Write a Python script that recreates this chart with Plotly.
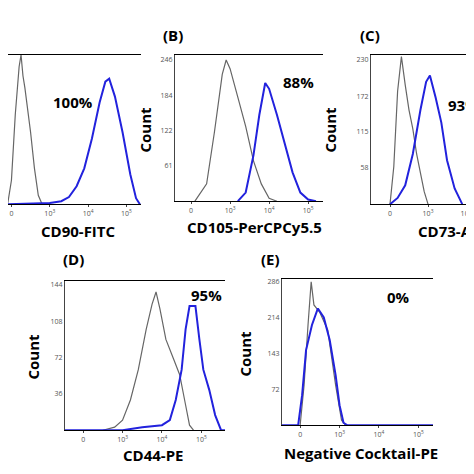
import plotly.graph_objects as go

# display scale: 0 -> "0", 1 -> 10^3, 2 -> 10^4, 3 -> 10^5
tick_vals = [0, 1, 2, 3]
tick_text = ['0', '10<sup>3</sup>', '10<sup>4</sup>', '10<sup>5</sup>']

# panel A  CD90-FITC
a_gray_x = [-0.1, 0.0, 0.1, 0.2, 0.25, 0.3, 0.35, 0.4, 0.5, 0.6, 0.7, 0.8]
a_gray_y = [0, 40, 150, 230, 250, 215, 195, 170, 120, 60, 15, 0]
a_blue_x = [-0.1, 1.0, 1.3, 1.5, 1.7, 1.9, 2.1, 2.3, 2.45, 2.55, 2.7, 2.9, 3.1, 3.25, 3.35]
a_blue_y = [0, 2, 5, 12, 30, 60, 110, 170, 205, 210, 180, 120, 50, 10, 0]

# panel B  CD105-PerCPCy5.5
b_gray_x = [0.1, 0.4, 0.6, 0.8, 0.9, 1.0, 1.2, 1.4, 1.6, 1.8, 2.0, 2.2]
b_gray_y = [0, 30, 120, 220, 245, 230, 180, 130, 70, 30, 5, 0]
b_blue_x = [1.2, 1.4, 1.6, 1.75, 1.9, 2.0, 2.2, 2.4, 2.6, 2.8, 3.0, 3.2]
b_blue_y = [0, 15, 80, 150, 205, 195, 150, 100, 50, 15, 3, 0]

# panel C  CD73-APC
c_gray_x = [0.0, 0.1, 0.2, 0.3, 0.4, 0.5, 0.6, 0.7, 0.8, 0.9, 1.0]
c_gray_y = [0, 60, 180, 235, 190, 150, 120, 80, 50, 20, 0]
c_blue_x = [0.0, 0.2, 0.4, 0.6, 0.8, 0.95, 1.05, 1.2, 1.35, 1.5, 1.7, 1.9]
c_blue_y = [0, 10, 30, 80, 150, 195, 205, 170, 130, 70, 25, 0]

# panel D  CD44-PE
d_gray_x = [0.5, 0.8, 1.0, 1.2, 1.4, 1.6, 1.75, 1.85, 1.95, 2.1, 2.3, 2.45, 2.6, 2.7, 2.8]
d_gray_y = [0, 3, 10, 30, 60, 100, 125, 137, 120, 90, 70, 55, 25, 5, 0]
d_blue_x = [-0.5, 1.0, 1.5, 2.0, 2.2, 2.35, 2.5, 2.6, 2.7, 2.85, 2.95, 3.05, 3.2, 3.35, 3.5, 3.6]
d_blue_y = [0, 0, 3, 5, 10, 30, 60, 100, 123, 123, 90, 60, 40, 15, 0, 0]

# panel E  Negative Cocktail-PE
e_gray_x = [0.0, 0.1, 0.2, 0.28, 0.35, 0.5, 0.7, 0.9, 1.05, 1.15]
e_gray_y = [0, 80, 200, 286, 240, 225, 190, 80, 10, 0]
e_blue_x = [-0.5, -0.05, 0.05, 0.15, 0.3, 0.45, 0.6, 0.75, 0.9, 1.0, 1.1, 1.2, 3.4]
e_blue_y = [0, 0, 60, 150, 200, 233, 215, 170, 100, 40, 5, 0, 0]

panels = [
    # gray, blue, x dom px, y dom px (bottom, top), x range, y max, y ticks
    (a_gray_x, a_gray_y, a_blue_x, a_blue_y, (0, 133), (195, 45), (-0.09, 3.38), 250, []),
    (b_gray_x, b_gray_y, b_blue_x, b_blue_y, (167, 315), (192, 45), (-0.41, 3.38), 254, [61, 122, 184, 246]),
    (c_gray_x, c_gray_y, c_blue_x, c_blue_y, (363, 474), (195, 45), (-0.5, 2.42), 238, [58, 115, 172, 230]),
    (d_gray_x, d_gray_y, d_blue_x, d_blue_y, (57, 217), (422, 272), (-0.46, 3.6), 148, [36, 72, 108, 144]),
    (e_gray_x, e_gray_y, e_blue_x, e_blue_y, (274, 425), (417, 270), (-0.46, 3.37), 292, [72, 143, 214, 286]),
]

W = 474
fig = go.Figure()
layout = {}
for i, (gx, gy, bx, by, xd, yd, xr, ymax, yt) in enumerate(panels, start=1):
    xa = 'x' if i == 1 else f'x{i}'
    ya = 'y' if i == 1 else f'y{i}'
    fig.add_trace(go.Scatter(x=gx, y=gy, xaxis=xa, yaxis=ya, mode='lines',
                             line=dict(color='#666666', width=1.2), showlegend=False))
    fig.add_trace(go.Scatter(x=bx, y=by, xaxis=xa, yaxis=ya, mode='lines',
                             line=dict(color='#2222dd', width=2), showlegend=False))
    layout['xaxis' if i == 1 else f'xaxis{i}'] = dict(
        domain=[xd[0] / W, xd[1] / W], range=list(xr), anchor=ya,
        tickvals=tick_vals, ticktext=tick_text, showgrid=False, zeroline=False,
        showline=True, mirror=True, linecolor='black', linewidth=1.2,
        ticks='outside', ticklen=2, tickfont=dict(size=7, color='#555'))
    layout['yaxis' if i == 1 else f'yaxis{i}'] = dict(
        domain=[1 - yd[0] / W, 1 - yd[1] / W], range=[0, ymax], anchor=xa,
        tickvals=yt, showgrid=False, zeroline=False,
        showline=True, linecolor='#444', linewidth=1,
        ticks='', tickfont=dict(size=7, color='#555'))

font = dict(family='Open Sans', size=15, color='black')
labels = [
    ('(B)', 165, 25), ('(C)', 362, 25), ('(D)', 65, 250), ('(E)', 262, 250),
    ('CD90-FITC', 70, 222), ('CD105-PerCPCy5.5', 247, 218), ('CD73-APC', 446, 222),
    ('CD44-PE', 145, 447), ('Negative Cocktail-PE', 353, 445),
    ('100%', 65, 92), ('88%', 290, 72), ('93%', 455, 95), ('95%', 198, 286), ('0%', 390, 288),
]
ann = []
for text, px, py in labels:
    ann.append(dict(text=f'<b>{text}</b>', x=px / W, y=1 - py / W, xref='paper', yref='paper',
                    showarrow=False, font=font, xanchor='center', yanchor='middle'))
for px, py in [(137, 120), (322, 120), (25, 348), (237, 345)]:
    ann.append(dict(text='<b>Count</b>', x=px / W, y=1 - py / W, xref='paper', yref='paper',
                    showarrow=False, font=font, textangle=-90, xanchor='center', yanchor='middle'))

fig.update_layout(**layout, annotations=ann, width=W, height=W,
                  margin=dict(l=0, r=0, t=0, b=0),
                  paper_bgcolor='white', plot_bgcolor='white')
fig.write_html('out.html')
